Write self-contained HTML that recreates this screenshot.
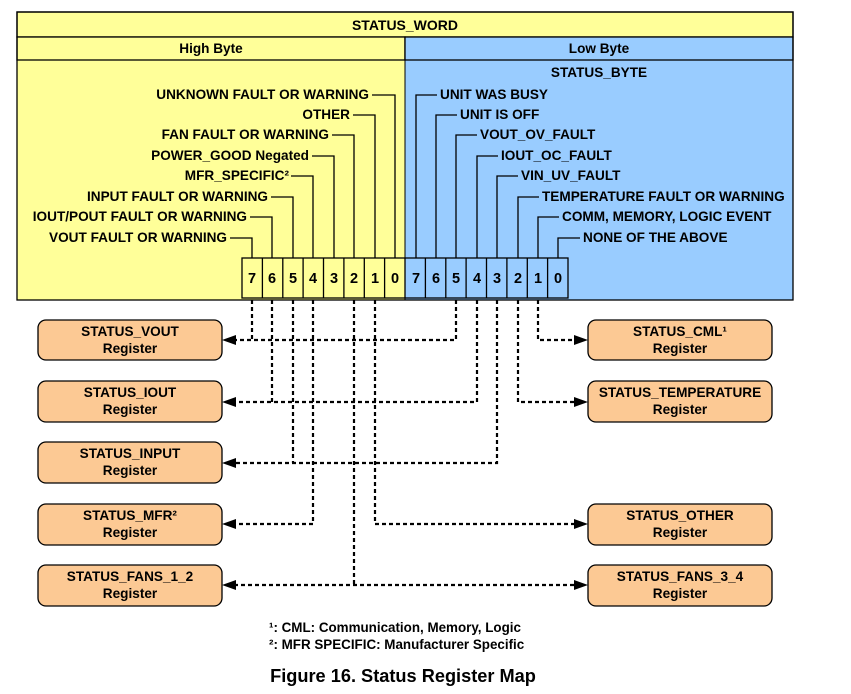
<!DOCTYPE html>
<html><head><style>
body{margin:0;background:#fff;width:851px;height:689px;overflow:hidden}
</style></head><body>
<svg width="851" height="689" xmlns="http://www.w3.org/2000/svg" font-family="Liberation Sans, Arial, sans-serif" font-weight="bold" font-size="13.6">
<rect x="17" y="60" width="388" height="240" fill="#ffff99"/>
<rect x="405" y="60" width="388" height="240" fill="#99ccff"/>
<rect x="17" y="12" width="776" height="25" fill="#ffff99" stroke="#000" stroke-width="1.3"/>
<rect x="17" y="37" width="388" height="23" fill="#ffff99" stroke="#000" stroke-width="1.3"/>
<rect x="405" y="37" width="388" height="23" fill="#99ccff" stroke="#000" stroke-width="1.3"/>
<rect x="17" y="12" width="776" height="288" fill="none" stroke="#000" stroke-width="1.3"/>
<line x1="405" y1="60" x2="405" y2="300" stroke="#000"/>
<text x="405" y="30" text-anchor="middle" font-size="14">STATUS_WORD</text>
<text x="211" y="53" text-anchor="middle">High Byte</text>
<text x="599" y="53" text-anchor="middle">Low Byte</text>
<text x="599" y="77" text-anchor="middle">STATUS_BYTE</text>
<g stroke="#000" stroke-width="1.3" fill="none">
<path d="M230 238H252V258M250 217H272V258M271 197H293V258M291 176H313V258M312 156H334V258M332 135H354V258M353 115H375V258M372 95H395V258"/>
<path d="M416 258V95H437M436 258V115H457M456 258V135H477M477 258V156H498M497 258V176H518M518 258V197H539M538 258V217H559M558 258V238H580"/>
</g>
<g text-anchor="end">
<text x="227" y="242">VOUT FAULT OR WARNING</text>
<text x="247" y="221">IOUT/POUT FAULT OR WARNING</text>
<text x="268" y="201">INPUT FAULT OR WARNING</text>
<text x="289" y="180">MFR_SPECIFIC²</text>
<text x="309" y="160">POWER_GOOD Negated</text>
<text x="329" y="139">FAN FAULT OR WARNING</text>
<text x="350" y="119">OTHER</text>
<text x="369" y="99">UNKNOWN FAULT OR WARNING</text>
</g>
<text x="440" y="99">UNIT WAS BUSY</text>
<text x="460" y="119">UNIT IS OFF</text>
<text x="480" y="139">VOUT_OV_FAULT</text>
<text x="501" y="160">IOUT_OC_FAULT</text>
<text x="521" y="180">VIN_UV_FAULT</text>
<text x="542" y="201">TEMPERATURE FAULT OR WARNING</text>
<text x="562" y="221">COMM, MEMORY, LOGIC EVENT</text>
<text x="583" y="242">NONE OF THE ABOVE</text>
<g font-size="14.5">
<rect x="242" y="258" width="326" height="40" fill="none" stroke="#000" stroke-width="1.3"/>
<g stroke="#000" stroke-width="1.3">
<line x1="262.4" y1="258" x2="262.4" y2="298"/><line x1="282.8" y1="258" x2="282.8" y2="298"/><line x1="303.1" y1="258" x2="303.1" y2="298"/><line x1="323.5" y1="258" x2="323.5" y2="298"/><line x1="343.9" y1="258" x2="343.9" y2="298"/><line x1="364.3" y1="258" x2="364.3" y2="298"/><line x1="384.6" y1="258" x2="384.6" y2="298"/><line x1="405" y1="258" x2="405" y2="298"/><line x1="425.4" y1="258" x2="425.4" y2="298"/><line x1="445.8" y1="258" x2="445.8" y2="298"/><line x1="466.1" y1="258" x2="466.1" y2="298"/><line x1="486.5" y1="258" x2="486.5" y2="298"/><line x1="506.9" y1="258" x2="506.9" y2="298"/><line x1="527.3" y1="258" x2="527.3" y2="298"/><line x1="547.6" y1="258" x2="547.6" y2="298"/>
</g>
<g text-anchor="middle">
<text x="252" y="283">7</text><text x="272" y="283">6</text><text x="293" y="283">5</text><text x="313" y="283">4</text><text x="334" y="283">3</text><text x="354" y="283">2</text><text x="375" y="283">1</text><text x="395" y="283">0</text>
<text x="416" y="283">7</text><text x="436" y="283">6</text><text x="456" y="283">5</text><text x="477" y="283">4</text><text x="497" y="283">3</text><text x="518" y="283">2</text><text x="538" y="283">1</text><text x="558" y="283">0</text>
</g></g>
<g stroke="#000" stroke-width="2.2" stroke-dasharray="4,3" fill="none">
<path d="M252 300V340M456 300V340H234"/>
<path d="M272 300V402M477 300V402H234"/>
<path d="M293 300V463M497 300V463H234"/>
<path d="M313 300V524H234"/>
<path d="M354 300V585M234 585H576"/>
<path d="M538 300V340H576"/>
<path d="M518 300V402H576"/>
<path d="M375 300V524H576"/>
</g>
<g fill="#000">
<path d="M222 340l14-5v10z"/><path d="M222 402l14-5v10z"/><path d="M222 463l14-5v10z"/><path d="M222 524l14-5v10z"/><path d="M222 585l14-5v10z"/>
<path d="M588 340l-14-5v10z"/><path d="M588 402l-14-5v10z"/><path d="M588 524l-14-5v10z"/><path d="M588 585l-14-5v10z"/>
</g>
<g fill="#fcc994" stroke="#000" stroke-width="1.3">
<rect x="38" y="320" width="184" height="40" rx="8"/><rect x="38" y="381" width="184" height="41" rx="8"/><rect x="38" y="442" width="184" height="41" rx="8"/><rect x="38" y="504" width="184" height="41" rx="8"/><rect x="38" y="565" width="184" height="41" rx="8"/>
<rect x="588" y="320" width="184" height="40" rx="8"/><rect x="588" y="381" width="184" height="41" rx="8"/><rect x="588" y="504" width="184" height="41" rx="8"/><rect x="588" y="565" width="184" height="41" rx="8"/>
</g>
<g text-anchor="middle">
<text x="130" y="336">STATUS_VOUT</text><text x="130" y="353">Register</text>
<text x="130" y="397">STATUS_IOUT</text><text x="130" y="414">Register</text>
<text x="130" y="458">STATUS_INPUT</text><text x="130" y="475">Register</text>
<text x="130" y="520">STATUS_MFR²</text><text x="130" y="537">Register</text>
<text x="130" y="581">STATUS_FANS_1_2</text><text x="130" y="598">Register</text>
<text x="680" y="336">STATUS_CML¹</text><text x="680" y="353">Register</text>
<text x="680" y="397">STATUS_TEMPERATURE</text><text x="680" y="414">Register</text>
<text x="680" y="520">STATUS_OTHER</text><text x="680" y="537">Register</text>
<text x="680" y="581">STATUS_FANS_3_4</text><text x="680" y="598">Register</text>
</g>
<text x="269" y="632" font-size="13.4">¹: CML: Communication, Memory, Logic</text>
<text x="269" y="649" font-size="13.4">²: MFR SPECIFIC: Manufacturer Specific</text>
<text x="403" y="682" text-anchor="middle" font-size="18.2">Figure 16. Status Register Map</text>
</svg>
</body></html>
